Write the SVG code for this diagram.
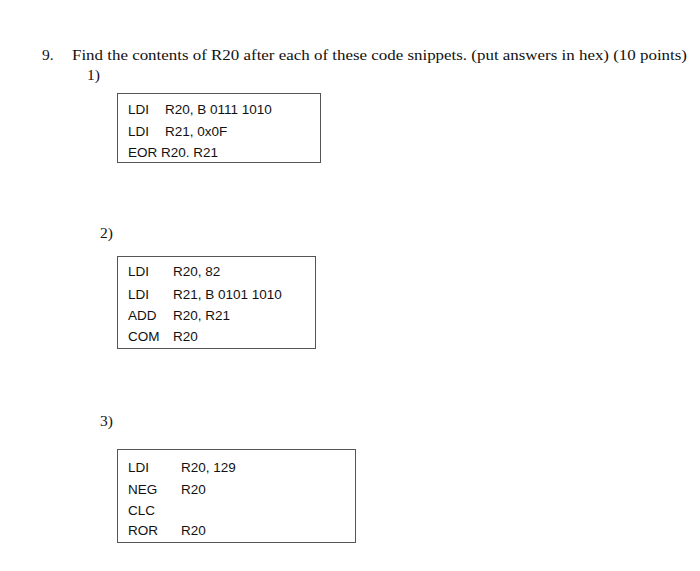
<svg xmlns="http://www.w3.org/2000/svg" width="700" height="571" viewBox="0 0 700 571">
<style>
.t{font-family:"Liberation Serif",serif;font-size:15.5px;fill:#111}
.c{font-family:"Liberation Sans",Arial,sans-serif;font-size:13.5px;fill:#111}
.b{fill:#fff;stroke:#555;stroke-width:1}
</style>
<rect width="700" height="571" fill="#fff"/>
<text class="t" x="42" y="60">9.</text>
<text class="t" x="72" y="60" textLength="615" lengthAdjust="spacingAndGlyphs">Find the contents of R20 after each of these code snippets. (put answers in hex) (10 points)</text>
<text class="t" x="87" y="80">1)</text>
<text class="t" x="100" y="238">2)</text>
<text class="t" x="100" y="426">3)</text>
<g id="snippet1">
<rect class="b" x="117.5" y="93.5" width="203" height="69"/>
<text class="c" x="128" y="114">LDI</text><text class="c" x="165" y="114">R20, B 0111 1010</text>
<text class="c" x="128" y="136">LDI</text><text class="c" x="165" y="136">R21, 0x0F</text>
<text class="c" x="128" y="157">EOR R20. R21</text>
</g>
<g id="snippet2">
<rect class="b" x="117.5" y="256.5" width="198" height="92"/>
<text class="c" x="128" y="276">LDI</text><text class="c" x="173" y="276">R20, 82</text>
<text class="c" x="128" y="299">LDI</text><text class="c" x="173" y="299">R21, B 0101 1010</text>
<text class="c" x="128" y="320">ADD</text><text class="c" x="173" y="320">R20, R21</text>
<text class="c" x="128" y="341">COM</text><text class="c" x="173" y="341">R20</text>
</g>
<g id="snippet3">
<rect class="b" x="117.5" y="449.5" width="238" height="93"/>
<text class="c" x="128" y="472">LDI</text><text class="c" x="181" y="472">R20, 129</text>
<text class="c" x="128" y="494">NEG</text><text class="c" x="181" y="494">R20</text>
<text class="c" x="128" y="515">CLC</text>
<text class="c" x="128" y="535">ROR</text><text class="c" x="181" y="535">R20</text>
</g>
<g id="connectors"/>
</svg>
